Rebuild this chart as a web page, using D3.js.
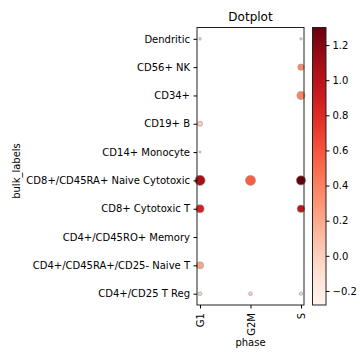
<!DOCTYPE html>
<html><head><meta charset="utf-8">
<script src="https://cdn.jsdelivr.net/npm/d3@7"></script>
<style>body{margin:0;background:#fff}svg{display:block}text{font-family:"DejaVu Sans",sans-serif;fill:#000}</style>
</head><body><svg id="c" width="360" height="360"></svg>
<script>
const categories = ["Dendritic","CD56+ NK","CD34+","CD19+ B","CD14+ Monocyte","CD8+/CD45RA+ Naive Cytotoxic","CD8+ Cytotoxic T","CD4+/CD45RO+ Memory","CD4+/CD45RA+/CD25- Naive T","CD4+/CD25 T Reg"];
const phases = ["G1","G2M","S"];
// mean expression per phase (null = no dot)
const meanG1  = [0.00, null, null, 0.00, 0.00, 1.08, 0.86, null, 0.22, 0.00];
const meanG2M = [null, null, null, null, null, 0.56, null, null, null, 0.02];
const meanS   = [0.00, 0.35, 0.38, null, null, 1.30, 0.98, null, null, 0.00];
// fraction of cells per phase
const fracG1  = [0.05, 0, 0, 0.18, 0.03, 0.72, 0.45, 0, 0.35, 0.10];
const fracG2M = [0, 0, 0, 0, 0, 0.70, 0, 0, 0, 0.10];
const fracS   = [0.04, 0.28, 0.45, 0, 0, 0.60, 0.40, 0, 0, 0.08];
const colorDomain = [-0.28, 1.30];
const cbTicks = [-0.2, 0.0, 0.2, 0.4, 0.6, 0.8, 1.0, 1.2];

const svg = d3.select("#c");
const L = 197, R = 304, T = 27.5, B = 305;
const x = d3.scalePoint().domain(phases).range([L, R]).padding(0.06);
const y = d3.scalePoint().domain(categories).range([T, B]).padding(0.4);
const color = d3.scaleSequential(d3.interpolateReds).domain(colorDomain);
const size = d3.scaleSqrt().domain([0, 1]).range([0, 6.0]);

const means = [meanG1, meanG2M, meanS];
const fracs = [fracG1, fracG2M, fracS];
const pts = [];
phases.forEach((p, j) => categories.forEach((c, i) => {
  if (means[j][i] !== null && fracs[j][i] > 0) pts.push({p, c, m: means[j][i], f: fracs[j][i]});
}));

svg.append("g").selectAll("circle").data(pts).join("circle")
  .attr("cx", d => x(d.p)).attr("cy", d => y(d.c)).attr("r", d => size(d.f))
  .attr("fill", d => color(d.m)).attr("stroke", "#999").attr("stroke-width", 0.6);

// frame
svg.append("rect").attr("x", L).attr("y", T).attr("width", R - L).attr("height", B - T)
  .attr("fill", "none").attr("stroke", "#222").attr("stroke-width", 1);

const fs = 10;
const yAx = svg.append("g").attr("transform", `translate(${L},0)`).call(d3.axisLeft(y).tickSize(3.5).tickPadding(3.5));
yAx.select(".domain").remove();
yAx.selectAll("text").style("font-size", fs + "px").style("font-family", "DejaVu Sans");
const xAx = svg.append("g").attr("transform", `translate(0,${B})`).call(d3.axisBottom(x).tickSize(3.5).tickPadding(3));
xAx.select(".domain").remove();
xAx.selectAll("text").style("font-size", fs + "px").style("font-family", "DejaVu Sans")
  .attr("transform", "rotate(-90)").attr("text-anchor", "end").attr("x", -8).attr("y", 0).attr("dy", "0.35em");

svg.append("text").attr("x", (L + R) / 2).attr("y", 21).attr("text-anchor", "middle").style("font-size", "12px").text("Dotplot");
svg.append("text").attr("x", (L + R) / 2).attr("y", 346).attr("text-anchor", "middle").style("font-size", fs + "px").text("phase");
svg.append("text").attr("transform", `translate(20,171) rotate(-90)`).attr("text-anchor", "middle").style("font-size", fs + "px").text("bulk_labels");

// colorbar
const cbL = 312.5, cbW = 13.5;
const cy = d3.scaleLinear().domain(colorDomain).range([B, T]);
const defs = svg.append("defs");
const grad = defs.append("linearGradient").attr("id", "g").attr("x1", 0).attr("y1", 1).attr("x2", 0).attr("y2", 0);
d3.range(0, 1.001, 0.05).forEach(t => grad.append("stop").attr("offset", t).attr("stop-color", d3.interpolateReds(t)));
svg.append("rect").attr("x", cbL).attr("y", T).attr("width", cbW).attr("height", B - T).attr("fill", "url(#g)")
  .attr("stroke", "#222").attr("stroke-width", 1);
const cAx = svg.append("g").attr("transform", `translate(${cbL + cbW},0)`)
  .call(d3.axisRight(cy).tickValues(cbTicks).tickSize(3.5).tickPadding(3).tickFormat(d => d3.format(".1f")(d).replace("-", "\u2212")));
cAx.select(".domain").remove();
cAx.selectAll("text").style("font-size", fs + "px").style("font-family", "DejaVu Sans");
</script></body></html>
